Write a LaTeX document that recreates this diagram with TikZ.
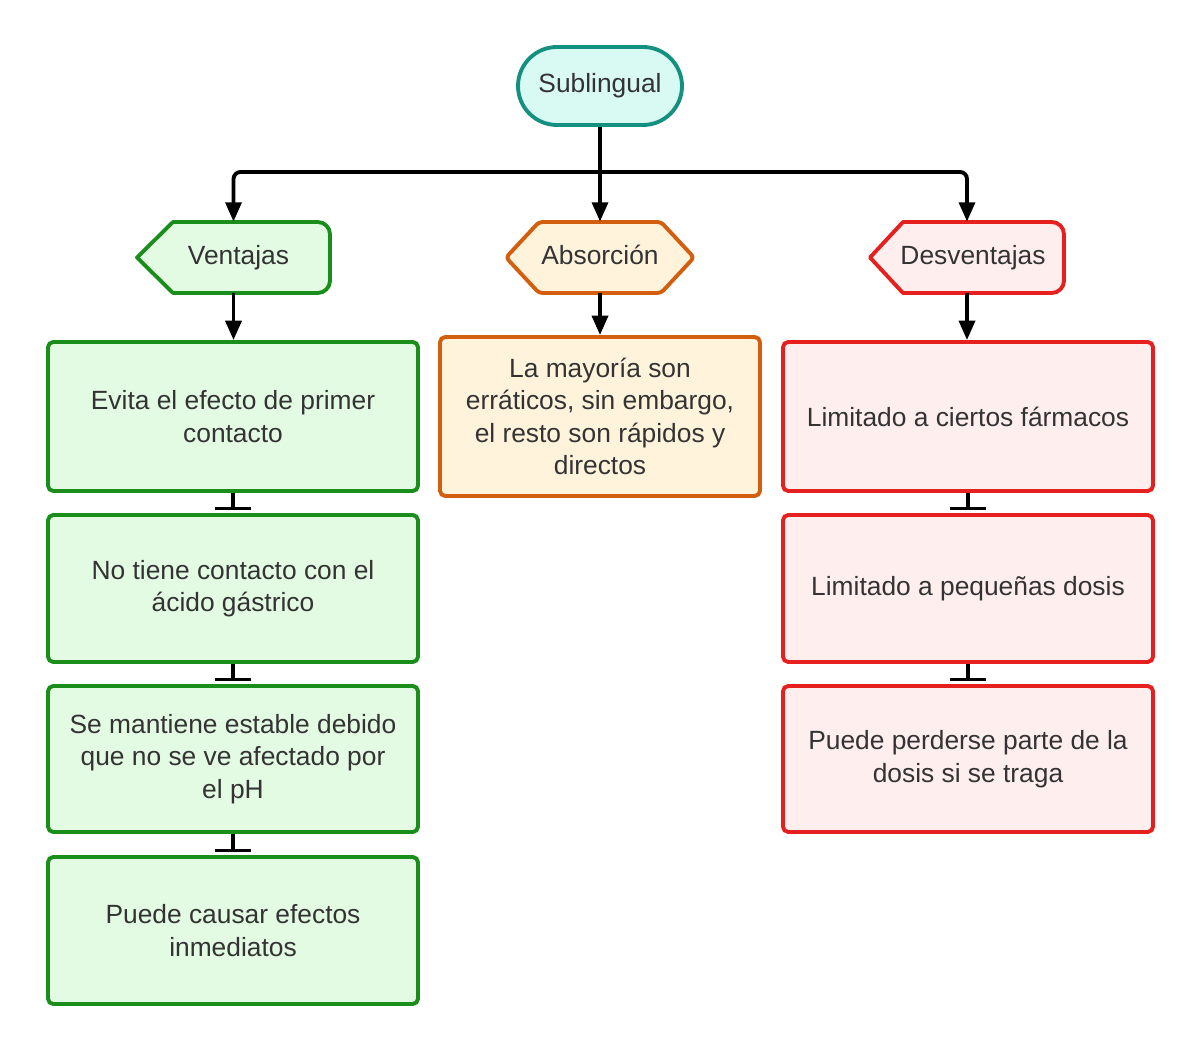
\documentclass[tikz,border=0pt]{standalone}
\usepackage{fontspec}
\setmainfont{Liberation Sans}
\usetikzlibrary{arrows.meta,calc}
\definecolor{txt}{HTML}{333333}
\definecolor{tbd}{HTML}{13907F}
\definecolor{tfl}{HTML}{D9F9F3}
\definecolor{gbd}{HTML}{1A8E1A}
\definecolor{gfl}{HTML}{E3FAE3}
\definecolor{obd}{HTML}{D25E0E}
\definecolor{ofl}{HTML}{FFF3DC}
\definecolor{rbd}{HTML}{E5201F}
\definecolor{rfl}{HTML}{FFEEEE}
\begin{document}
\begin{tikzpicture}[x=0.02cm,y=-0.02cm,
  lbl/.style={align=center, text=txt, font=\fontsize{15pt}{18.5pt}\selectfont, inner sep=0pt},
  box/.style={lbl, draw, line width=2.2pt, rounded corners=3pt, minimum width=370*0.02cm},
  gbox/.style={box, draw=gbd, fill=gfl},
  rbox/.style={box, draw=rbd, fill=rfl},
  obox/.style={box, draw=obd, fill=ofl, minimum width=320*0.02cm, minimum height=159*0.02cm},
  hdr/.style={lbl, minimum height=71*0.02cm, minimum width=190*0.02cm, text height=11pt, text depth=3.5pt},
  shp/.style={line width=2.2pt, line join=round},
  conn/.style={line width=2.2pt, rounded corners=4pt},
  arr/.style={conn, -{Triangle[length=11pt,width=9pt]}},
  barc/.style={line width=2.2pt, -{Bar[width=21pt,line width=2.2pt]}, shorten >=1.5pt}
]
\useasboundingbox (0,0) rectangle (1200,1053);

% top
\node[lbl, draw=tbd, fill=tfl, line width=2.2pt, rounded corners=0.78cm,
      minimum width=164*0.02cm, minimum height=78*0.02cm] (sub) at (600,86) {Sublingual};

% header shapes
\filldraw[shp, draw=gbd, fill=gfl] (137,257.5) -- (173,222) [rounded corners=7pt] -- (330,222) -- (330,293) [sharp corners] -- (173,293) -- cycle;
\filldraw[shp, draw=obd, fill=ofl, rounded corners=2pt] (506,257.5) -- (539,222) -- (661,222) -- (694,257.5) -- (661,293) -- (539,293) -- cycle;
\filldraw[shp, draw=rbd, fill=rfl] (870,257.5) -- (903,222) [rounded corners=7pt] -- (1064,222) -- (1064,293) [sharp corners] -- (903,293) -- cycle;

\node[hdr] (ven) at (233.5,257.5) {\hspace*{0.2cm}Ventajas};
\node[hdr] (abs) at (600,257.5) {Absorción};
\node[hdr] (des) at (967,257.5) {\hspace*{0.24cm}Desventajas};

% boxes
\node[gbox, minimum height=149*0.02cm] (g1) at (233,416.5) {Evita el efecto de primer\\contacto};
\node[gbox, minimum height=147*0.02cm] (g2) at (233,588.5) {No tiene contacto con el\\ácido gástrico};
\node[gbox, minimum height=146*0.02cm] (g3) at (233,759) {Se mantiene estable debido\\que no se ve afectado por\\el pH};
\node[gbox, minimum height=147*0.02cm] (g4) at (233,930.5) {Puede causar efectos\\inmediatos};

\node[obox] (o1) at (600,416.5) {La mayoría son\\erráticos, sin embargo,\\el resto son rápidos y\\directos};

\node[rbox, minimum height=149*0.02cm] (r1) at (968,416.5) {Limitado a ciertos fármacos};
\node[rbox, minimum height=147*0.02cm] (r2) at (968,588.5) {Limitado a pequeñas dosis};
\node[rbox, minimum height=146*0.02cm] (r3) at (968,759) {Puede perderse parte de la\\dosis si se traga};

% connectors
\coordinate (j) at (600,172);
\draw[conn] (sub.south) -- (j);
\draw[arr] (j) -| (ven.north);
\draw[arr] (j) -- (abs.north);
\draw[arr] (j) -| (des.north);

\draw[arr] (ven.south) -- (ven.south |- g1.north);
\draw[arr] (abs.south) -- (o1.north);
\draw[arr] (des.south) -- (des.south |- r1.north);

\draw[barc] (g1.south) -- (g2.north);
\draw[barc] (g2.south) -- (g3.north);
\draw[barc] (g3.south) -- (g4.north);
\draw[barc] (r1.south) -- (r2.north);
\draw[barc] (r2.south) -- (r3.north);
\end{tikzpicture}
\end{document}
